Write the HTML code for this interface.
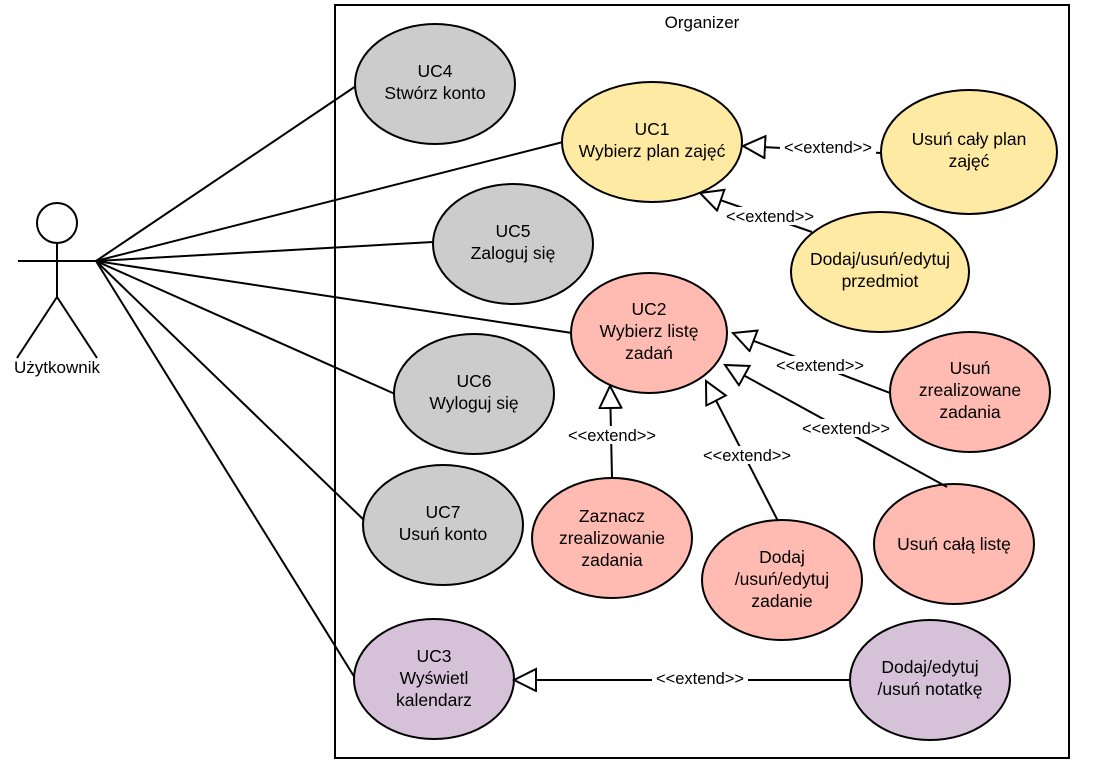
<!DOCTYPE html>
<html><head><meta charset="utf-8"><style>
body{margin:0;background:#fff;}
svg{display:block;font-family:"Liberation Sans",sans-serif;}
text{font-size:17.5px;text-anchor:middle;fill:#000;}
</style></head><body>
<svg width="1099" height="775" viewBox="0 0 1099 775">
<defs>
<marker id="tri" markerUnits="userSpaceOnUse" markerWidth="26" markerHeight="26" refX="23" refY="12" orient="auto">
<path d="M1,1 L23,12 L1,23 Z" fill="#fff" stroke="#000" stroke-width="2"/>
</marker>
</defs>
<rect x="335" y="5" width="734" height="753" fill="#fff" stroke="#000" stroke-width="2"/>
<text x="702" y="28" style="font-size:17px">Organizer</text>

<g stroke="#000" stroke-width="2" fill="none">
<circle cx="57" cy="223" r="20" fill="#fff"/>
<line x1="57" y1="243" x2="57" y2="297"/>
<line x1="18" y1="261" x2="96" y2="261"/>
<line x1="57" y1="297" x2="17" y2="358"/>
<line x1="57" y1="297" x2="97" y2="358"/>
<line x1="96" y1="261" x2="356" y2="86"/>
<line x1="96" y1="261" x2="563" y2="142"/>
<line x1="96" y1="261" x2="433" y2="242"/>
<line x1="96" y1="261" x2="572" y2="333"/>
<line x1="96" y1="261" x2="395" y2="394"/>
<line x1="96" y1="261" x2="366" y2="522"/>
<line x1="96" y1="261" x2="355" y2="678"/>
</g>
<text x="57" y="373" style="font-size:17px">Użytkownik</text>

<g stroke="#000" stroke-width="2">
<ellipse cx="435" cy="84" rx="80" ry="60" fill="#cccccc"/>
<ellipse cx="652" cy="142" rx="90" ry="60" fill="#ffeaa4"/>
<ellipse cx="969" cy="152" rx="88" ry="62" fill="#ffeaa4"/>
<ellipse cx="880" cy="272" rx="89" ry="60" fill="#ffeaa4"/>
<ellipse cx="513" cy="244" rx="80" ry="60" fill="#cccccc"/>
<ellipse cx="649" cy="333" rx="78" ry="60" fill="#ffbbb1"/>
<ellipse cx="474" cy="394" rx="80" ry="60" fill="#cccccc"/>
<ellipse cx="970" cy="392" rx="80" ry="60" fill="#ffbbb1"/>
<ellipse cx="443" cy="525" rx="80" ry="60" fill="#cccccc"/>
<ellipse cx="612" cy="538" rx="80" ry="60" fill="#ffbbb1"/>
<ellipse cx="782" cy="580" rx="80" ry="60" fill="#ffbbb1"/>
<ellipse cx="954" cy="544" rx="80" ry="60" fill="#ffbbb1"/>
<ellipse cx="434" cy="679" rx="80" ry="60" fill="#d5c1d8"/>
<ellipse cx="930" cy="680" rx="80" ry="60" fill="#d5c1d8"/>
</g>

<g stroke="#000" stroke-width="2" fill="none">
<line x1="881" y1="153" x2="743" y2="146" marker-end="url(#tri)"/>
<line x1="812" y1="232" x2="700" y2="193" marker-end="url(#tri)"/>
<line x1="890" y1="393" x2="733" y2="333" marker-end="url(#tri)"/>
<line x1="947" y1="487" x2="725" y2="365" marker-end="url(#tri)"/>
<line x1="778" y1="521" x2="706" y2="381" marker-end="url(#tri)"/>
<line x1="612" y1="478" x2="610" y2="386" marker-end="url(#tri)"/>
<line x1="851" y1="680" x2="514" y2="680" marker-end="url(#tri)"/>
</g>
<g style="font-size:16.5px">
<rect x="780" y="138" width="96" height="18" fill="#fff"/><text x="828" y="153" style="font-size:16.5px">&lt;&lt;extend&gt;&gt;</text>
<rect x="722" y="207" width="96" height="18" fill="#fff"/><text x="770" y="222" style="font-size:16.5px">&lt;&lt;extend&gt;&gt;</text>
<rect x="772" y="356" width="96" height="18" fill="#fff"/><text x="820" y="371" style="font-size:16.5px">&lt;&lt;extend&gt;&gt;</text>
<rect x="798" y="419" width="96" height="18" fill="#fff"/><text x="846" y="434" style="font-size:16.5px">&lt;&lt;extend&gt;&gt;</text>
<rect x="699" y="446" width="96" height="18" fill="#fff"/><text x="747" y="461" style="font-size:16.5px">&lt;&lt;extend&gt;&gt;</text>
<rect x="564" y="426" width="96" height="18" fill="#fff"/><text x="612" y="441" style="font-size:16.5px">&lt;&lt;extend&gt;&gt;</text>
<rect x="652" y="669" width="96" height="18" fill="#fff"/><text x="700" y="684" style="font-size:16.5px">&lt;&lt;extend&gt;&gt;</text>
</g>

<text x="435" y="77">UC4</text><text x="435" y="99">Stwórz konto</text>
<text x="652" y="135">UC1</text><text x="652" y="157">Wybierz plan zajęć</text>
<text x="969" y="145">Usuń cały plan</text><text x="969" y="167">zajęć</text>
<text x="880" y="265">Dodaj/usuń/edytuj</text><text x="880" y="287">przedmiot</text>
<text x="513" y="237">UC5</text><text x="513" y="259">Zaloguj się</text>
<text x="649" y="315">UC2</text><text x="649" y="337">Wybierz listę</text><text x="649" y="359">zadań</text>
<text x="474" y="387">UC6</text><text x="474" y="409">Wyloguj się</text>
<text x="970" y="374">Usuń</text><text x="970" y="396">zrealizowane</text><text x="970" y="418">zadania</text>
<text x="443" y="518">UC7</text><text x="443" y="540">Usuń konto</text>
<text x="612" y="522">Zaznacz</text><text x="612" y="544">zrealizowanie</text><text x="612" y="566">zadania</text>
<text x="782" y="563">Dodaj</text><text x="782" y="585">/usuń/edytuj</text><text x="782" y="607">zadanie</text>
<text x="954" y="550">Usuń całą listę</text>
<text x="434" y="662">UC3</text><text x="434" y="684">Wyświetl</text><text x="434" y="706">kalendarz</text>
<text x="930" y="673">Dodaj/edytuj</text><text x="930" y="695">/usuń notatkę</text>
</svg>
</body></html>
